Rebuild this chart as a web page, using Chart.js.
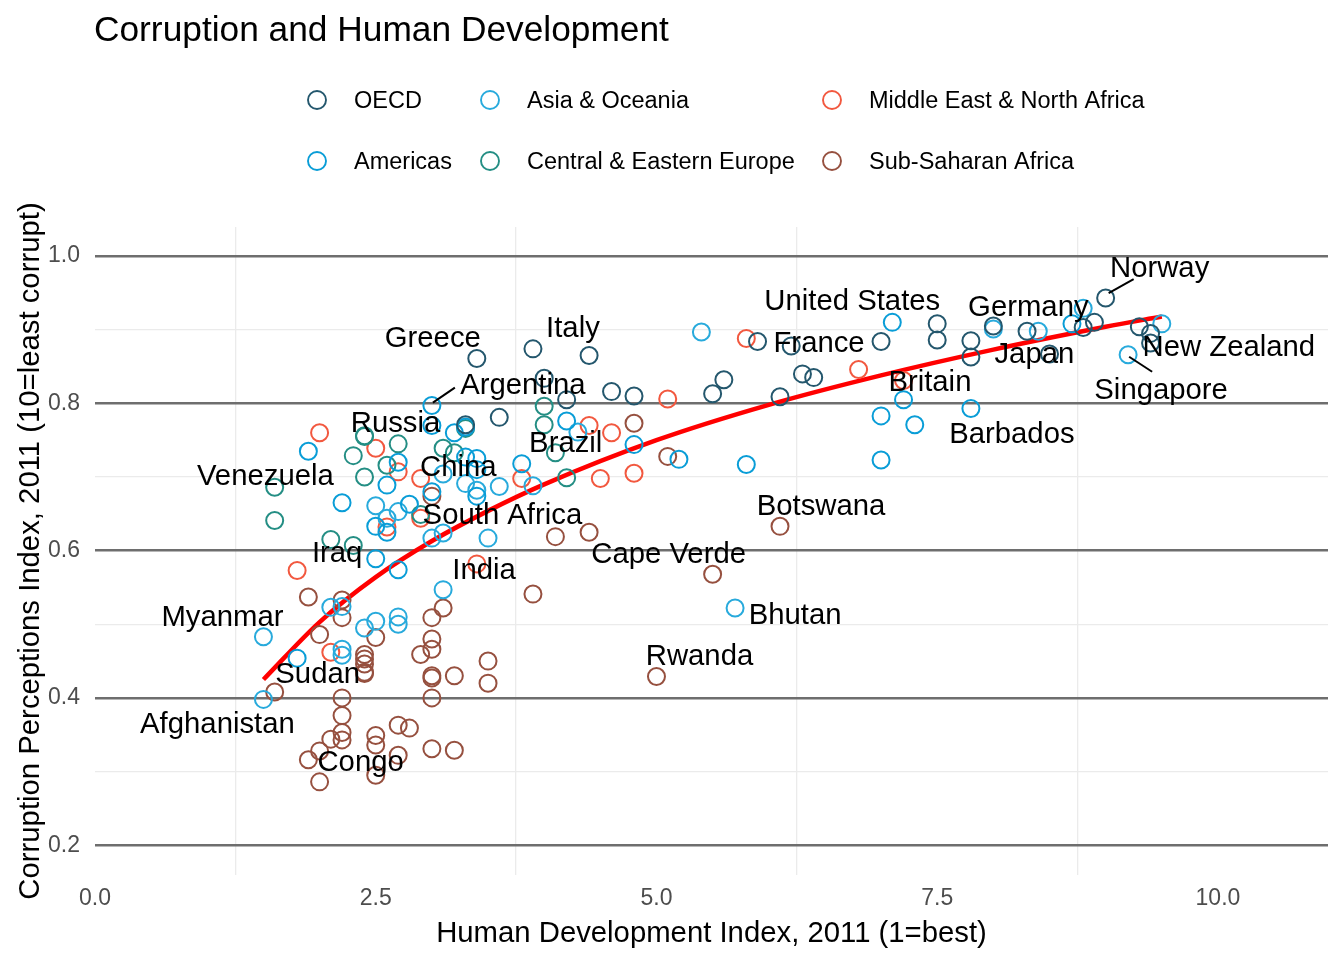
<!DOCTYPE html>
<html>
<head>
<meta charset="utf-8">
<script src="https://cdn.jsdelivr.net/npm/chart.js@4.4.1/dist/chart.umd.min.js"></script>
<style>
  html, body { margin: 0; padding: 0; background: #fff; }
  #wrap { width: 1344px; height: 960px; }
</style>
</head>
<body>
<div id="wrap"><canvas id="chart" width="1344" height="960"></canvas></div>
<script>
// ---- data (CPI on x, HDI on y) ----
const countries = [
  'Afghanistan', 'Albania', 'Algeria', 'Angola', 'Argentina', 'Armenia', 'Australia', 'Austria',
  'Azerbaijan', 'Bahamas', 'Bahrain', 'Bangladesh', 'Barbados', 'Belarus', 'Belgium', 'Benin',
  'Bhutan', 'Bolivia', 'Bosnia and Herzegovina', 'Botswana', 'Brazil', 'Britain', 'Bulgaria',
  'Burkina Faso', 'Burundi', 'Cambodia', 'Cameroon', 'Canada', 'Cape Verde',
  'Central African Republic', 'Chad', 'Chile', 'China', 'Colombia', 'Comoros', 'Congo',
  'Congo Republic', 'Costa Rica', "Cote d'Ivoire", 'Croatia', 'Cuba', 'Cyprus', 'Czech Republic',
  'Denmark', 'Djibouti', 'Dominica', 'Dominican Republic', 'Ecuador', 'Egypt', 'El Salvador',
  'Equatorial Guinea', 'Eritrea', 'Estonia', 'Ethiopia', 'Finland', 'France', 'Gabon', 'Gambia',
  'Georgia', 'Germany', 'Ghana', 'Greece', 'Guatemala', 'Guinea', 'Guinea-Bissau', 'Guyana',
  'Haiti', 'Honduras', 'Hong Kong', 'Hungary', 'Iceland', 'India', 'Indonesia', 'Iran', 'Iraq',
  'Ireland', 'Israel', 'Italy', 'Jamaica', 'Japan', 'Jordan', 'Kazakhstan', 'Kenya', 'Kiribati',
  'Korea (South)', 'Kuwait', 'Kyrgyzstan', 'Laos', 'Latvia', 'Lebanon', 'Lesotho', 'Liberia',
  'Libya', 'Lithuania', 'Luxembourg', 'Madagascar', 'Malawi', 'Malaysia', 'Maldives', 'Mali',
  'Malta', 'Mauritania', 'Mauritius', 'Mexico', 'Moldova', 'Mongolia', 'Montenegro', 'Morocco',
  'Mozambique', 'Myanmar', 'Namibia', 'Nepal', 'Netherlands', 'New Zealand', 'Nicaragua', 'Niger',
  'Nigeria', 'Norway', 'Oman', 'Pakistan', 'Panama', 'Papua New Guinea', 'Paraguay', 'Peru',
  'Philippines', 'Poland', 'Portugal', 'Qatar', 'Romania', 'Russia', 'Rwanda', 'Saint Lucia',
  'Saint Vincent and the Grenadines', 'Samoa', 'Sao Tome and Principe', 'Saudi Arabia', 'Senegal',
  'Serbia', 'Seychelles', 'Sierra Leone', 'Singapore', 'Slovakia', 'Slovenia', 'Solomon Islands',
  'South Africa', 'Spain', 'Sri Lanka', 'Sudan', 'Suriname', 'Swaziland', 'Sweden', 'Switzerland',
  'Syria', 'Tajikistan', 'Tanzania', 'Thailand', 'Timor-Leste', 'Togo', 'Tonga',
  'Trinidad and Tobago', 'Tunisia', 'Turkey', 'Turkmenistan', 'Uganda', 'Ukraine',
  'United Arab Emirates', 'United States', 'Uruguay', 'Uzbekistan', 'Vanuatu', 'Venezuela',
  'Yemen', 'Zambia', 'Zimbabwe'
];

const cpi = [
  1.5, 3.1, 2.9, 2.0, 3.0, 2.6, 8.8, 7.8,
  2.4, 7.3, 5.1, 2.7, 7.8, 2.4, 7.5, 3.0,
  5.7, 2.8, 3.2, 6.1, 3.8, 7.8, 3.3,
  3.0, 1.9, 2.1, 2.5, 8.7, 5.5,
  2.2, 2.0, 7.2, 3.6, 3.4, 2.4, 2.0,
  2.2, 4.8, 2.2, 4.0, 4.2, 6.3, 4.4,
  9.4, 3.0, 5.2, 2.6, 2.7, 2.9, 3.4,
  1.9, 2.5, 6.4, 2.7, 9.4, 7.0, 3.0, 3.5,
  4.1, 8.0, 3.9, 3.4, 2.7, 2.1, 2.2, 2.5,
  1.8, 2.6, 8.4, 4.6, 8.3, 3.1, 3.0, 2.7, 1.8,
  7.5, 5.8, 3.9, 3.3, 8.0, 4.5, 2.7, 2.2, 3.1,
  5.4, 4.6, 2.1, 2.2, 4.2, 2.5, 3.5, 3.2,
  2.0, 4.8, 8.5, 3.0, 3.0, 4.3, 2.5, 2.8,
  5.6, 2.4, 5.1, 3.0, 2.9, 2.7, 4.0, 3.4,
  2.7, 1.5, 4.4, 2.2, 8.9, 9.5, 2.5, 2.5,
  2.4, 9.0, 4.8, 2.5, 3.3, 2.2, 2.2, 3.4,
  2.6, 5.5, 6.1, 7.2, 3.6, 2.4, 5.0, 7.0,
  5.8, 3.9, 3.0, 4.4, 2.9,
  3.3, 4.8, 2.5, 9.2, 4.0, 5.9, 2.7,
  4.1, 6.2, 3.3, 1.6, 3.0, 3.1, 9.3, 8.8,
  2.6, 2.3, 3.0, 3.4, 2.4, 2.4, 3.1,
  3.2, 3.8, 4.2, 1.6, 2.4, 2.3,
  6.8, 7.1, 7.0, 1.6, 3.5, 1.9,
  2.1, 3.2, 2.2
];

const hdi = [
  0.398, 0.739, 0.698, 0.486, 0.797, 0.716, 0.929, 0.885,
  0.700, 0.771, 0.806, 0.500, 0.793, 0.756, 0.886, 0.427,
  0.522, 0.663, 0.733, 0.633, 0.718, 0.863, 0.771,
  0.331, 0.316, 0.523, 0.482, 0.908, 0.568,
  0.343, 0.328, 0.805, 0.687, 0.710, 0.433, 0.286,
  0.533, 0.744, 0.400, 0.796, 0.776, 0.840, 0.865,
  0.895, 0.430, 0.724, 0.689, 0.720, 0.644, 0.674,
  0.537, 0.349, 0.835, 0.363, 0.882, 0.884, 0.674, 0.420,
  0.733, 0.905, 0.541, 0.861, 0.574, 0.344, 0.353, 0.633,
  0.454, 0.625, 0.898, 0.816, 0.898, 0.547, 0.617, 0.707, 0.573,
  0.908, 0.888, 0.874, 0.727, 0.901, 0.698, 0.745, 0.509, 0.624,
  0.897, 0.760, 0.615, 0.524, 0.805, 0.739, 0.450, 0.329,
  0.760, 0.810, 0.867, 0.480, 0.400, 0.761, 0.661, 0.359,
  0.832, 0.453, 0.728, 0.770, 0.649, 0.653, 0.771, 0.582,
  0.322, 0.483, 0.625, 0.458, 0.910, 0.908, 0.589, 0.295,
  0.459, 0.943, 0.705, 0.504, 0.768, 0.466, 0.665, 0.725,
  0.644, 0.813, 0.809, 0.831, 0.781, 0.755, 0.429, 0.723,
  0.717, 0.688, 0.509, 0.770, 0.459,
  0.766, 0.773, 0.336, 0.866, 0.834, 0.884, 0.510,
  0.619, 0.878, 0.691, 0.408, 0.680, 0.522, 0.904, 0.903,
  0.632, 0.607, 0.466, 0.682, 0.495, 0.435, 0.704,
  0.760, 0.698, 0.699, 0.686, 0.446, 0.729,
  0.846, 0.910, 0.783, 0.641, 0.617, 0.735,
  0.462, 0.430, 0.376
];

// O=OECD A=Americas P=Asia & Oceania E=Central & Eastern Europe M=Middle East & North Africa S=Sub-Saharan Africa
const region = [
  'P', 'E', 'M', 'S', 'A', 'E', 'P', 'O',
  'E', 'A', 'M', 'P', 'A', 'E', 'O', 'S',
  'P', 'A', 'E', 'S', 'A', 'O', 'O',
  'S', 'S', 'P', 'S', 'A', 'S',
  'S', 'S', 'A', 'P', 'A', 'S', 'S',
  'S', 'A', 'S', 'E', 'A', 'O', 'O',
  'O', 'S', 'A', 'A', 'A', 'M', 'A',
  'S', 'S', 'O', 'S', 'O', 'O', 'S', 'S',
  'E', 'O', 'S', 'O', 'A', 'S', 'S', 'A',
  'A', 'A', 'P', 'O', 'O', 'P', 'P', 'M', 'M',
  'O', 'M', 'O', 'A', 'P', 'M', 'E', 'S', 'P',
  'P', 'M', 'E', 'P', 'O', 'M', 'S', 'S',
  'M', 'O', 'O', 'S', 'S', 'P', 'P', 'S',
  'O', 'S', 'S', 'A', 'E', 'P', 'E', 'M',
  'S', 'P', 'S', 'P', 'O', 'P', 'A', 'S',
  'S', 'O', 'M', 'P', 'A', 'P', 'A', 'A',
  'P', 'O', 'O', 'M', 'O', 'E', 'S', 'A',
  'A', 'P', 'S', 'M', 'S',
  'E', 'S', 'S', 'P', 'O', 'O', 'P',
  'S', 'O', 'P', 'S', 'A', 'S', 'O', 'O',
  'M', 'E', 'S', 'P', 'P', 'S', 'P',
  'A', 'M', 'E', 'E', 'S', 'E',
  'M', 'A', 'A', 'E', 'P', 'A',
  'M', 'S', 'S'
];

const regionKeys = ['O', 'A', 'P', 'E', 'M', 'S'];
const regionNames = ['OECD', 'Americas', 'Asia & Oceania', 'Central & Eastern Europe',
  'Middle East & North Africa', 'Sub-Saharan Africa'];
const regionColors = ['#24576D', '#099DD7', '#28AADC', '#248E84', '#F2583F', '#96503F'];

// red trend curve
const trendCpi = [1.5, 2, 2.5, 3, 3.5, 4, 5, 6, 7, 8, 9, 9.5];
const trendHdi = [0.425, 0.503, 0.564, 0.613, 0.654, 0.690, 0.750, 0.798, 0.838, 0.873, 0.904, 0.918];

const xTicks = [0, 1.25, 2.5, 3.75, 5, 6.25, 7.5, 8.75, 10];
const yTicks = [0.2, 0.3, 0.4, 0.5, 0.6, 0.7, 0.8, 0.9, 1.0];

// ---- label placement (pixel offsets of text centre from its point) ----
const labelOffset = {
  'Norway': [54, -32], 'United States': [-40, -23], 'Germany': [35, -21], 'Greece': [-44, -22],
  'Italy': [40, -22], 'France': [-62, 0], 'New Zealand': [67, 22], 'Japan': [41, 24],
  'Argentina': [91, -22], 'Britain': [-41, 24], 'Singapore': [33, 34], 'Russia': [31, -15],
  'Barbados': [41, 24], 'Brazil': [44, -22], 'China': [-41, -21], 'Venezuela': [-43, 23],
  'Botswana': [41, -22], 'South Africa': [-53, -23], 'Cape Verde': [-44, -22], 'Iraq': [40, -19],
  'India': [41, -21], 'Bhutan': [60, 5], 'Myanmar': [-41, -21], 'Rwanda': [43, -22],
  'Sudan': [43, -20], 'Afghanistan': [-46, 23], 'Congo': [41, -21]
};
const segmentOffset = {
  'Norway': [[3, -5], [28, -19]],
  'Singapore': [[1, 2], [24, 17]],
  'Argentina': [[1, -3], [23, -18]]
};

const FONT = '"Liberation Sans", Arial, Helvetica, sans-serif';
Chart.defaults.font.family = FONT;

const datasets = regionKeys.map((key, r) => ({
  label: regionNames[r],
  data: countries.map((c, i) => ({ x: cpi[i], y: hdi[i], r: region[i] }))
    .filter(p => p.r === key),
  borderColor: regionColors[r],
  backgroundColor: 'rgba(0,0,0,0)',
  pointRadius: 8.5,
  pointBorderWidth: 2,
  showLine: false,
  order: 1
}));

datasets.push({
  label: 'trend',
  type: 'line',
  data: trendCpi.map((v, i) => ({ x: v, y: trendHdi[i] })),
  borderColor: '#ff0000',
  borderWidth: 4.5,
  pointRadius: 0,
  cubicInterpolationMode: 'monotone',
  fill: false,
  order: 5
});

const isMajorY = v => Math.round(v * 10) % 2 === 0;
const isMajorX = v => Math.abs(v / 2.5 - Math.round(v / 2.5)) < 1e-6;

const annotate = {
  id: 'annotate',
  afterDatasetsDraw(chart) {
    const { ctx, scales: { x, y } } = chart;
    ctx.save();
    // connector segments
    ctx.strokeStyle = '#000';
    ctx.lineWidth = 2;
    Object.keys(segmentOffset).forEach(name => {
      const i = countries.indexOf(name);
      const px = x.getPixelForValue(cpi[i]);
      const py = y.getPixelForValue(hdi[i]);
      const [a, b] = segmentOffset[name];
      ctx.beginPath();
      ctx.moveTo(px + a[0], py + a[1]);
      ctx.lineTo(px + b[0], py + b[1]);
      ctx.stroke();
    });
    // country labels
    ctx.font = '29.3px ' + FONT;
    ctx.fillStyle = '#000';
    ctx.textAlign = 'center';
    ctx.textBaseline = 'alphabetic';
    Object.keys(labelOffset).forEach(name => {
      const i = countries.indexOf(name);
      if (i < 0) return;
      const px = x.getPixelForValue(cpi[i]);
      const py = y.getPixelForValue(hdi[i]);
      const [dx, dy] = labelOffset[name];
      ctx.fillText(name, px + dx, py + dy + 10.5);
    });
    ctx.restore();
  },
  afterDraw(chart) {
    const { ctx, chartArea } = chart;
    ctx.save();
    ctx.fillStyle = '#000';
    // title
    ctx.font = '35.3px ' + FONT;
    ctx.textAlign = 'left';
    ctx.textBaseline = 'alphabetic';
    ctx.fillText('Corruption and Human Development', 94, 40.5);

    // legend, filled column by column in two rows
    const colCircle = [317, 490, 832];
    const rowY = [100, 161];
    ctx.font = '23.5px ' + FONT;
    regionNames.forEach((name, r) => {
      const col = Math.floor(r / 2);
      const row = r % 2;
      const cx = colCircle[col];
      const cy = rowY[row];
      ctx.beginPath();
      ctx.arc(cx, cy, 9, 0, Math.PI * 2);
      ctx.lineWidth = 1.9;
      ctx.strokeStyle = regionColors[r];
      ctx.stroke();
      ctx.fillStyle = '#000';
      ctx.fillText(name, cx + 37, cy + 8.4);
    });

    // axis titles
    ctx.font = '29.3px ' + FONT;
    ctx.textAlign = 'center';
    ctx.fillText('Human Development Index, 2011 (1=best)',
      (chartArea.left + chartArea.right) / 2, 941.5);
    ctx.translate(38.5, (chartArea.top + chartArea.bottom) / 2);
    ctx.rotate(-Math.PI / 2);
    ctx.fillText('Corruption Perceptions Index, 2011 (10=least corrupt)', 0, 0);
    ctx.restore();
  }
};

new Chart(document.getElementById('chart'), {
  type: 'scatter',
  data: { datasets },
  options: {
    responsive: false,
    animation: false,
    devicePixelRatio: 1,
    events: [],
    layout: { padding: { top: 227, right: 16, left: 0, bottom: 0 } },
    plugins: { legend: { display: false }, tooltip: { enabled: false }, title: { display: false } },
    scales: {
      x: {
        type: 'linear',
        min: 0,
        max: 10.98,
        afterBuildTicks: s => { s.ticks = xTicks.map(v => ({ value: v })); },
        afterFit: s => { s.height = 85; },
        border: { display: false },
        grid: {
          drawTicks: false,
          color: c => (isMajorX(c.tick.value) ? 'rgba(0,0,0,0)' : '#ebebeb'),
          lineWidth: 1.3
        },
        ticks: {
          autoSkip: false,
          maxRotation: 0,
          padding: 10,
          color: '#4d4d4d',
          font: { size: 23 },
          callback: v => (isMajorX(v) ? v.toFixed(1) : '')
        }
      },
      y: {
        type: 'linear',
        min: 0.1595,
        max: 1.0395,
        afterBuildTicks: s => { s.ticks = yTicks.map(v => ({ value: v })); },
        afterFit: s => { s.width = 95; },
        border: { display: false },
        grid: {
          drawTicks: false,
          color: c => (isMajorY(c.tick.value) ? '#6e6e6e' : '#ebebeb'),
          lineWidth: c => (isMajorY(c.tick.value) ? 2.6 : 1.3)
        },
        ticks: {
          autoSkip: false,
          padding: 15,
          color: '#4d4d4d',
          font: { size: 23 },
          callback: v => (isMajorY(v) ? v.toFixed(1) : '')
        }
      }
    }
  },
  plugins: [annotate]
});
</script>
</body>
</html>
